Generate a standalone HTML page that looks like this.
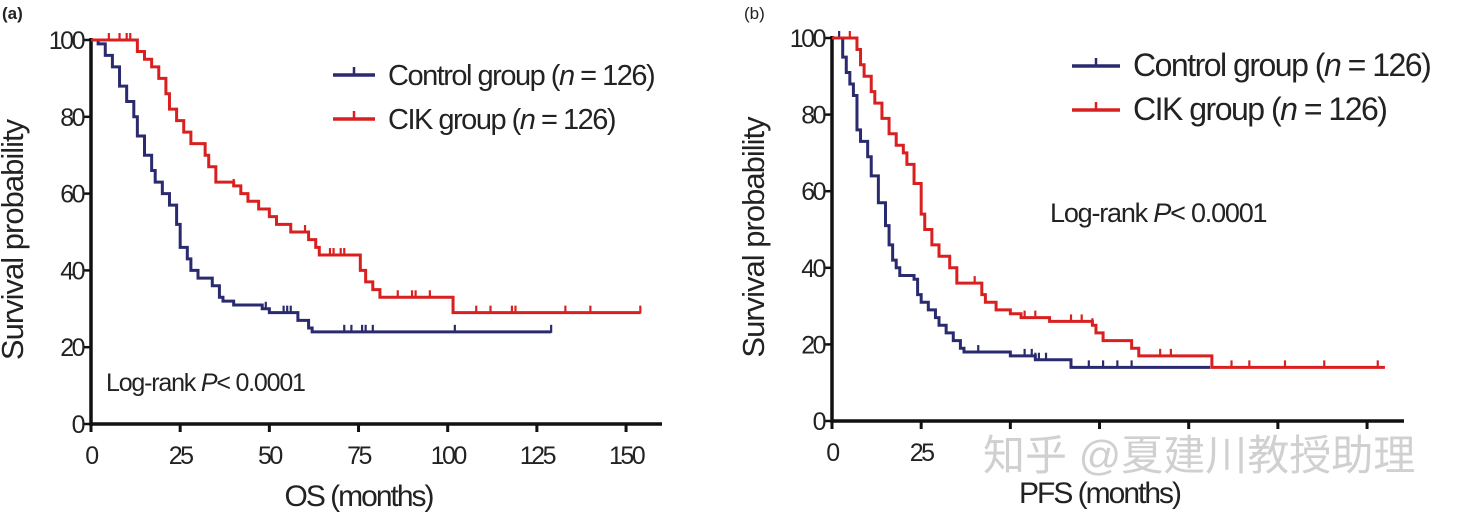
<!DOCTYPE html>
<html><head><meta charset="utf-8"><style>
body{margin:0;background:#fff;width:1459px;height:515px;overflow:hidden}
text{font-family:"Liberation Sans","Noto Sans CJK SC",sans-serif}
</style></head><body>
<svg id="s" width="1459" height="515" xmlns="http://www.w3.org/2000/svg">
<g fill="#222">
<text x="2" y="19" font-size="17" font-weight="bold">(a)</text>
<text x="744" y="19" font-size="17">(b)</text>
</g>
</svg>
<script>
var s=document.getElementById('s'),NS='http://www.w3.org/2000/svg';
function el(t,a,txt){var e=document.createElementNS(NS,t);for(var k in a)e.setAttribute(k,a[k]);if(txt)e.textContent=txt;s.appendChild(e);return e;}
function panel(P){
 var X=function(m){return P.x0+m*3.567},Y=function(v){return P.y0-v*(P.y0-P.y100)/100};
 el('line',{x1:P.x0,y1:P.y100-2,x2:P.x0,y2:P.y0+2,stroke:'#111','stroke-width':3.5});
 el('line',{x1:P.x0,y1:P.y0,x2:P.xe,y2:P.y0,stroke:'#111','stroke-width':3.5});
 for(var v=0;v<=100;v+=20){el('line',{x1:P.x0-7,y1:Y(v),x2:P.x0,y2:Y(v),stroke:'#111','stroke-width':2.5});
  el('text',{x:P.x0-8,y:Y(v)+9,'font-size':25,'text-anchor':'end',fill:'#222','letter-spacing':-2.5},''+v);}
 for(var m=0;m<=150;m+=25){el('line',{x1:X(m),y1:P.y0,x2:X(m),y2:P.y0+8,stroke:'#111','stroke-width':3});
  if(P.hide.indexOf(m)<0)el('text',{x:X(m),y:P.y0+40,'font-size':25,'text-anchor':'middle',fill:'#222','letter-spacing':-2.5},''+m);}
 el('text',{x:X(75),y:P.y0+82,'font-size':30,'text-anchor':'middle',fill:'#222','letter-spacing':-2},P.xl);
 el('text',{x:0,y:0,'font-size':31,'text-anchor':'middle',fill:'#222','letter-spacing':-1,transform:'translate('+(P.x0-68)+','+((P.y0+P.y100)/2+8)+') rotate(-90)'},'Survival probability');
 [[P.c,'#2a2a6e'],[P.k,'#d92020']].forEach(function(S){
  var d=S[0].d,p='M'+X(0)+','+Y(100);var prev=100;
  for(var i=0;i<d.length;i++){p+=' L'+X(d[i][0])+','+Y(prev)+' L'+X(d[i][0])+','+Y(d[i][1]);prev=d[i][1];}
  p+=' L'+X(S[0].end)+','+Y(prev);
  el('path',{d:p,fill:'none',stroke:S[1],'stroke-width':3});
  S[0].cens.forEach(function(c){var v=100;for(var i=0;i<d.length;i++)if(d[i][0]<=c)v=d[i][1];
   el('line',{x1:X(c),y1:Y(v)-7,x2:X(c),y2:Y(v)+1,stroke:S[1],'stroke-width':2.2});});
 });
 var L=P.leg;
 [['Control group (',"#2a2a6e",0],['CIK group (',"#d92020",1]].forEach(function(r){
  var y=L.y+r[2]*L.dy;
  el('line',{x1:L.x,y1:y,x2:L.x+L.lw,y2:y,stroke:r[1],'stroke-width':3.5});
  el('line',{x1:L.x+L.lw/2,y1:y-8,x2:L.x+L.lw/2,y2:y,stroke:r[1],'stroke-width':2.5});
  var t=el('text',{x:L.tx,y:y+10,'font-size':L.fs,fill:'#222','letter-spacing':-1.5});
  t.innerHTML=r[0]+'<tspan font-style="italic">n</tspan> = 126)';
 });
 var t=el('text',{x:P.lr[0],y:P.lr[1],'font-size':P.lr[2],fill:'#222','letter-spacing':-1.2});
 t.innerHTML='Log-rank <tspan font-style="italic">P</tspan>&lt; 0.0001';
}
panel({x0:91,y0:424,y100:40,xe:662,xl:'OS (months)',hide:[],
 c:{end:129,cens:[49,54,55,56,71,73,76,77,79,102,129],d:[[2,99],[4,96],[6,93],[8,88],[10,84],[12,80],[13,75],[15,70],[17,66],[18,63],[20,60],[22,57],[24,52],[25,46],[27,43],[28,40],[30,38],[34,36],[36,33],[37,32],[40,31],[48,30],[50,29],[58,27],[61,25],[62,24]]},
 k:{end:154,cens:[5,8,10,11,40,60,67,68,70,71,86,90,91,95,108,112,118,119,133,140,154],d:[[12,100],[13,97],[15,95],[17,93],[19,90],[21,86],[22,82],[24,79],[26,76],[28,73],[32,70],[33,67],[35,63],[40,62],[42,60],[44,58],[47,56],[50,54],[52,52],[56,50],[60,50],[61,48],[63,46],[64,44],[75,44],[75.5,40],[77,37],[79,35],[81,33],[101,33],[101.5,29]]},
 leg:{x:333,y:75,dy:44,lw:42,tx:388,fs:29},lr:[106,391,25]});
panel({x0:832,y0:421,y100:38,xe:1404,xl:'PFS (months)',hide:[50,75,100,125,150],
 c:{end:106,cens:[2,41,54,56,57,58,60,72,76,80,84],d:[[2,100],[3,95],[4,91],[5,88],[6,85],[7,76],[8,73],[10,69],[11,64],[13,57],[15,51],[16,46],[17,42],[18,40],[19,38],[22,38],[23,37],[24,33],[25,31],[27,29],[29,27],[30,25],[32,23],[34,21],[36,19],[37,18],[50,17],[57,16],[67,14]]},
 k:{end:155,cens:[5,33,40,54,57,67,70,73,84,92,95,112,117,127,138,153],d:[[6,100],[7,97],[8,93],[9,90],[11,86],[12,83],[14,79],[16,75],[18,72],[20,70],[21,67],[23,62],[25,54],[26,50],[28,46],[30,43],[33,40],[35,36],[40,36],[42,33],[43,31],[46,29],[50,28],[53,27],[61,26],[73,25],[74,23],[76,21],[84,19],[86,17],[106,17],[106.5,14]]},
 leg:{x:1072,y:66,dy:44,lw:48,tx:1133,fs:32},lr:[1050,222,27]});
el('text',{x:983,y:470,'font-size':42,fill:'#c8c8c8','fill-opacity':0.85,'letter-spacing':0},'知乎 @夏建川教授助理');
</script>
</body></html>
